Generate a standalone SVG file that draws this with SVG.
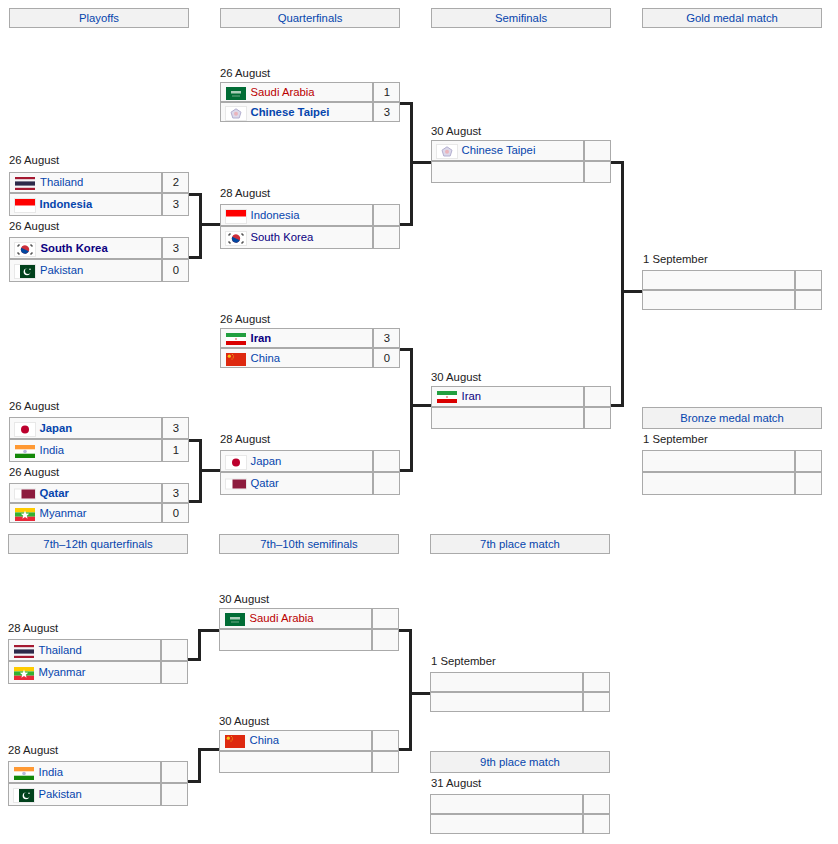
<svg xmlns="http://www.w3.org/2000/svg" xmlns:xlink="http://www.w3.org/1999/xlink" width="838" height="844" viewBox="0 0 838 844">
<style>
text{font-family:"Liberation Sans",Arial,sans-serif;font-size:11.3px;fill:#222}
.h rect{fill:#f2f2f2;stroke:#aaa;stroke-width:1}
.h text{fill:#0645ad;text-anchor:middle}
.m rect{fill:#f9f9f9;stroke:#aaa;stroke-width:1}
.m line{stroke:#aaa;stroke-width:2}
.s{text-anchor:middle}
.a{fill:#0645ad}.v{fill:#0b0080}.r{fill:#ba0000}.b{font-weight:bold}
#connectors path{fill:none;stroke:#222;stroke-width:3}
.fb{fill:#fff;stroke:#e8e8e8;stroke-width:1}
</style>
<defs>
<g id="f-th"><rect width="20" height="13" fill="#a51931"/><rect y="2.2" width="20" height="8.6" fill="#f4f5f8"/><rect y="4.4" width="20" height="4.2" fill="#2d2a4a"/></g>
<g id="f-id"><rect class="fb" x="-.5" y="-.5" width="21" height="14"/><rect width="20" height="6.5" fill="#f00"/></g>
<g id="f-sa"><rect width="20" height="13" fill="#006c35"/><rect x="5" y="4" width="10" height="2.5" fill="#a9cdb8"/><rect x="6" y="8.5" width="8" height="1" fill="#6fa888"/></g>
<g id="f-tw"><rect class="fb" x="-.5" y="-.5" width="21" height="14"/><polygon points="10,1.8 15,5.2 13.2,11 6.8,11 5,5.2" fill="#dcd9ea" stroke="#b3afd0"/><circle cx="10" cy="6.8" r="2" fill="#eab4bc"/></g>
<g id="f-kr"><rect class="fb" x="-.5" y="-.5" width="21" height="14"/><g transform="rotate(25 10 6.5)"><circle cx="10" cy="6.5" r="4.2" fill="#cd2e3a"/><path d="M5.8 6.5a4.2 4.2 0 0 0 8.4 0z" fill="#0047a0"/></g><path d="M2.5 3.5l2-2M2.5 9.5l2 2M15.5 1.5l2 2M15.5 11.5l2-2" stroke="#555" stroke-width="1.6" fill="none"/></g>
<g id="f-pk"><rect class="fb" x="-.5" y="-.5" width="21" height="14"/><rect x="5" width="15" height="13" fill="#01411c"/><circle cx="12" cy="6.8" r="3.4" fill="#fff"/><circle cx="13" cy="6.1" r="3" fill="#01411c"/><circle cx="15" cy="4.3" r=".8" fill="#fff"/></g>
<g id="f-jp"><rect class="fb" x="-.5" y="-.5" width="21" height="14"/><circle cx="10" cy="6.5" r="4" fill="#bc002d"/></g>
<g id="f-in"><rect width="20" height="13" fill="#fff"/><rect width="20" height="4.3" fill="#f93"/><rect y="8.7" width="20" height="4.3" fill="#138808"/><circle cx="10" cy="6.5" r="1.8" fill="#b9b9dc"/></g>
<g id="f-qa"><rect class="fb" x="-.5" y="-.5" width="21" height="10"/><rect x="6.5" width="13.5" height="9" fill="#8d1b3d"/></g>
<g id="f-mm"><rect width="20" height="4.4" fill="#fecb00"/><rect y="4.4" width="20" height="4.3" fill="#34b233"/><rect y="8.7" width="20" height="4.3" fill="#ea2839"/><polygon points="10,2.6 11.1,5.6 14.2,5.7 11.8,7.7 12.6,10.7 10,9 7.4,10.7 8.2,7.7 5.8,5.7 8.9,5.6" fill="#fff"/></g>
<g id="f-ir"><rect width="20" height="12" fill="#fff"/><rect width="20" height="4" fill="#239f40"/><rect y="8" width="20" height="4" fill="#da0000"/><circle cx="10" cy="6" r="1" fill="#e58a8a"/></g>
<g id="f-cn"><rect width="20" height="13" fill="#de2910"/><circle cx="3.3" cy="3.2" r="1.6" fill="#f5c518"/><circle cx="6.4" cy="1.5" r=".5" fill="#f5c518"/><circle cx="7.4" cy="3" r=".5" fill="#f5c518"/><circle cx="7.2" cy="4.7" r=".5" fill="#f5c518"/><circle cx="6" cy="6" r=".5" fill="#f5c518"/></g>
</defs>
<rect width="838" height="844" fill="#fff"/>

<g id="connectors">
<path d="M189 194.5H200.5V257.5H189M200.5 224.5H220"/>
<path d="M189 440.5H200.5V501.5H189M200.5 470.5H220"/>
<path d="M400 103.5H411.5V224.5H400M411.5 162.5H431"/>
<path d="M400 349.5H411.5V470.5H400M411.5 405.5H431"/>
<path d="M611 162.5H622.5V405.5H611M622.5 291.5H642"/>
<path d="M188 659.5H199.5V630.5H219"/>
<path d="M188 781.5H199.5V749.5H219"/>
<path d="M399 630.5H410.5V749.5H399M410.5 693.5H430"/>
</g>

<g id="h-playoffs" class="h"><rect x="9.5" y="8.5" width="179" height="19"/><text x="99" y="22">Playoffs</text></g>
<g id="h-quarterfinals" class="h"><rect x="220.5" y="8.5" width="179" height="19"/><text x="310" y="22">Quarterfinals</text></g>
<g id="h-semifinals" class="h"><rect x="431.5" y="8.5" width="179" height="19"/><text x="521" y="22">Semifinals</text></g>
<g id="h-gold" class="h"><rect x="642.5" y="8.5" width="179" height="19"/><text x="732" y="22">Gold medal match</text></g>
<g id="h-bronze" class="h"><rect x="642.5" y="407.5" width="179" height="21"/><text x="732" y="422">Bronze medal match</text></g>
<g id="h-7-12" class="h"><rect x="8.5" y="534.5" width="179" height="19"/><text x="98" y="548">7th–12th quarterfinals</text></g>
<g id="h-7-10" class="h"><rect x="219.5" y="534.5" width="179" height="19"/><text x="309" y="548">7th–10th semifinals</text></g>
<g id="h-7th" class="h"><rect x="430.5" y="534.5" width="179" height="19"/><text x="520" y="548">7th place match</text></g>
<g id="h-9th" class="h"><rect x="430.5" y="751.5" width="179" height="21"/><text x="520" y="766">9th place match</text></g>

<g id="m-po1" class="m"><text x="9" y="164">26 August</text><rect x="9.5" y="172.5" width="179" height="43"/><line x1="9" y1="193" x2="189" y2="193"/><line x1="162" y1="172" x2="162" y2="216"/>
<use href="#f-th" x="15" y="177"/><text class="a" x="40" y="186">Thailand</text><text class="s" x="176" y="186">2</text>
<use href="#f-id" x="15" y="199"/><text class="a b" x="39.5" y="208">Indonesia</text><text class="s" x="176" y="208">3</text></g>

<g id="m-po2" class="m"><text x="9" y="230">26 August</text><rect x="9.5" y="237.5" width="179" height="44"/><line x1="9" y1="259" x2="189" y2="259"/><line x1="162" y1="237" x2="162" y2="282"/>
<use href="#f-kr" x="15" y="243"/><text class="v b" x="40.5" y="252">South Korea</text><text class="s" x="176" y="252">3</text>
<use href="#f-pk" x="15" y="265"/><text class="a" x="40" y="274">Pakistan</text><text class="s" x="176" y="274">0</text></g>

<g id="m-po3" class="m"><text x="9" y="410">26 August</text><rect x="9.5" y="417.5" width="179" height="44"/><line x1="9" y1="439" x2="189" y2="439"/><line x1="162" y1="417" x2="162" y2="462"/>
<use href="#f-jp" x="15" y="423"/><text class="a b" x="39.5" y="432">Japan</text><text class="s" x="176" y="432">3</text>
<use href="#f-in" x="15" y="445"/><text class="a" x="39.5" y="454">India</text><text class="s" x="176" y="454">1</text></g>

<g id="m-po4" class="m"><text x="9" y="476">26 August</text><rect x="9.5" y="483.5" width="179" height="39"/><line x1="9" y1="503" x2="189" y2="503"/><line x1="162" y1="483" x2="162" y2="523"/>
<use href="#f-qa" x="15" y="489.5"/><text class="a b" x="39.5" y="497">Qatar</text><text class="s" x="176" y="497">3</text>
<use href="#f-mm" x="15" y="508"/><text class="a" x="39.5" y="517">Myanmar</text><text class="s" x="176" y="517">0</text></g>

<g id="m-qf1" class="m"><text x="220" y="77">26 August</text><rect x="220.5" y="82.5" width="179" height="39"/><line x1="220" y1="102" x2="400" y2="102"/><line x1="373" y1="82" x2="373" y2="122"/>
<use href="#f-sa" x="226" y="87"/><text class="r" x="250.5" y="96">Saudi Arabia</text><text class="s" x="387" y="96">1</text>
<use href="#f-tw" x="226" y="107"/><text class="a b" x="250.5" y="116">Chinese Taipei</text><text class="s" x="387" y="116">3</text></g>

<g id="m-qf2" class="m"><text x="220" y="197">28 August</text><rect x="220.5" y="204.5" width="179" height="44"/><line x1="220" y1="226" x2="400" y2="226"/><line x1="373" y1="204" x2="373" y2="249"/>
<use href="#f-id" x="226" y="210"/><text class="a" x="250.5" y="219">Indonesia</text>
<use href="#f-kr" x="226" y="232"/><text class="v" x="250.5" y="241">South Korea</text></g>

<g id="m-qf3" class="m"><text x="220" y="323">26 August</text><rect x="220.5" y="328.5" width="179" height="39"/><line x1="220" y1="348" x2="400" y2="348"/><line x1="373" y1="328" x2="373" y2="368"/>
<use href="#f-ir" x="226" y="333"/><text class="v b" x="250.5" y="342">Iran</text><text class="s" x="387" y="342">3</text>
<use href="#f-cn" x="226" y="353"/><text class="a" x="250.5" y="362">China</text><text class="s" x="387" y="362">0</text></g>

<g id="m-qf4" class="m"><text x="220" y="443">28 August</text><rect x="220.5" y="450.5" width="179" height="44"/><line x1="220" y1="472" x2="400" y2="472"/><line x1="373" y1="450" x2="373" y2="495"/>
<use href="#f-jp" x="226" y="456"/><text class="a" x="250.5" y="465">Japan</text>
<use href="#f-qa" x="226" y="479.5"/><text class="a" x="250.5" y="487">Qatar</text></g>

<g id="m-sf1" class="m"><text x="431" y="135">30 August</text><rect x="431.5" y="140.5" width="179" height="42"/><line x1="431" y1="161" x2="611" y2="161"/><line x1="584" y1="140" x2="584" y2="183"/>
<use href="#f-tw" x="437" y="145"/><text class="a" x="461.5" y="154">Chinese Taipei</text></g>

<g id="m-sf2" class="m"><text x="431" y="381">30 August</text><rect x="431.5" y="386.5" width="179" height="42"/><line x1="431" y1="407" x2="611" y2="407"/><line x1="584" y1="386" x2="584" y2="429"/>
<use href="#f-ir" x="437" y="391"/><text class="v" x="461.5" y="400">Iran</text></g>

<g id="m-gold" class="m"><text x="643" y="263">1 September</text><rect x="642.5" y="270.5" width="179" height="39"/><line x1="642" y1="290" x2="822" y2="290"/><line x1="795" y1="270" x2="795" y2="310"/></g>

<g id="m-bronze" class="m"><text x="643" y="443">1 September</text><rect x="642.5" y="450.5" width="179" height="44"/><line x1="642" y1="472" x2="822" y2="472"/><line x1="795" y1="450" x2="795" y2="495"/></g>

<g id="m-c1" class="m"><text x="8" y="632">28 August</text><rect x="8.5" y="639.5" width="179" height="44"/><line x1="8" y1="661" x2="188" y2="661"/><line x1="161" y1="639" x2="161" y2="684"/>
<use href="#f-th" x="14" y="645"/><text class="a" x="38.5" y="654">Thailand</text>
<use href="#f-mm" x="14" y="667"/><text class="a" x="38.5" y="676">Myanmar</text></g>

<g id="m-c2" class="m"><text x="8" y="754">28 August</text><rect x="8.5" y="761.5" width="179" height="44"/><line x1="8" y1="783" x2="188" y2="783"/><line x1="161" y1="761" x2="161" y2="806"/>
<use href="#f-in" x="14" y="767"/><text class="a" x="38.5" y="776">India</text>
<use href="#f-pk" x="14" y="789"/><text class="a" x="38.5" y="798">Pakistan</text></g>

<g id="m-c3" class="m"><text x="219" y="603">30 August</text><rect x="219.5" y="608.5" width="179" height="42"/><line x1="219" y1="629" x2="399" y2="629"/><line x1="372" y1="608" x2="372" y2="651"/>
<use href="#f-sa" x="225" y="613"/><text class="r" x="249.5" y="622">Saudi Arabia</text></g>

<g id="m-c4" class="m"><text x="219" y="725">30 August</text><rect x="219.5" y="730.5" width="179" height="42"/><line x1="219" y1="751" x2="399" y2="751"/><line x1="372" y1="730" x2="372" y2="773"/>
<use href="#f-cn" x="225" y="735"/><text class="a" x="249.5" y="744">China</text></g>

<g id="m-7th" class="m"><text x="431" y="665">1 September</text><rect x="430.5" y="672.5" width="179" height="39"/><line x1="430" y1="692" x2="610" y2="692"/><line x1="583" y1="672" x2="583" y2="712"/></g>

<g id="m-9th" class="m"><text x="431" y="787">31 August</text><rect x="430.5" y="794.5" width="179" height="39"/><line x1="430" y1="814" x2="610" y2="814"/><line x1="583" y1="794" x2="583" y2="834"/></g>
</svg>
